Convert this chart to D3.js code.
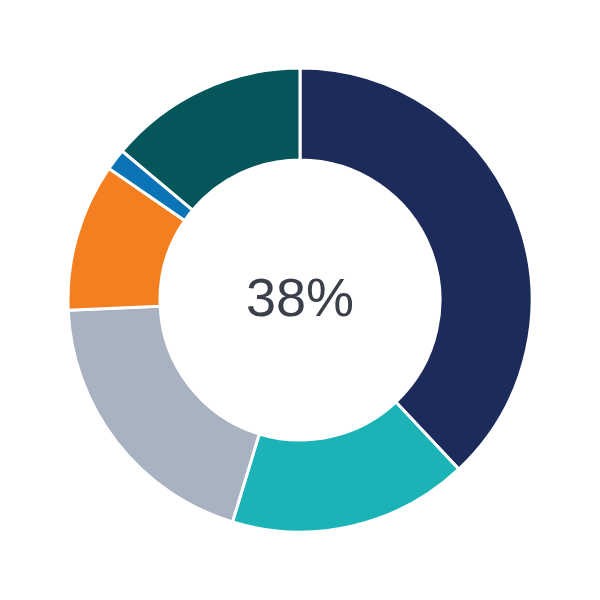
<!DOCTYPE html>
<html>
<head>
<meta charset="utf-8">
<script src="https://cdn.jsdelivr.net/npm/d3@7"></script>
<style>
  html,body{margin:0;padding:0;background:#fff;}
  svg{display:block;}
</style>
</head>
<body>
<script>
// segment shares, clockwise from 12 o'clock
const segments=['A','B','C','D','E','F'];
const values=[38,16.7,19.6,10.3,1.5,13.9];
const colors=['#1c2b5a','#1bb3b6','#a8b2c1','#f47f20','#0b74b7','#04565a'];
const centerLabel='38%';

let width=600,height=600;
let svg=d3.select("body").append("svg")
    .attr("width",width)
    .attr("height",height);

let g=svg.append("g").attr("transform","translate(300,300)");

let pie=d3.pie().sort(null).value(d=>d.v);
let arc=d3.arc().innerRadius(140).outerRadius(232);

let data=segments.map((s,i)=>({name:s,v:values[i],c:colors[i]}));

g.selectAll("path")
    .data(pie(data))
    .enter().append("path")
    .attr("d",arc)
    .attr("fill",d=>d.data.c)
    .attr("stroke","#fff")
    .attr("stroke-width",3)
    .attr("stroke-linejoin","miter");

g.append("text")
    .attr("x",0)
    .attr("y",16)
    .attr("text-anchor","middle")
    .attr("font-family","Liberation Sans, Arial, sans-serif")
    .attr("font-size",54)
    .attr("fill","#3b3f4a")
    .text(centerLabel);
</script>
</body>
</html>
